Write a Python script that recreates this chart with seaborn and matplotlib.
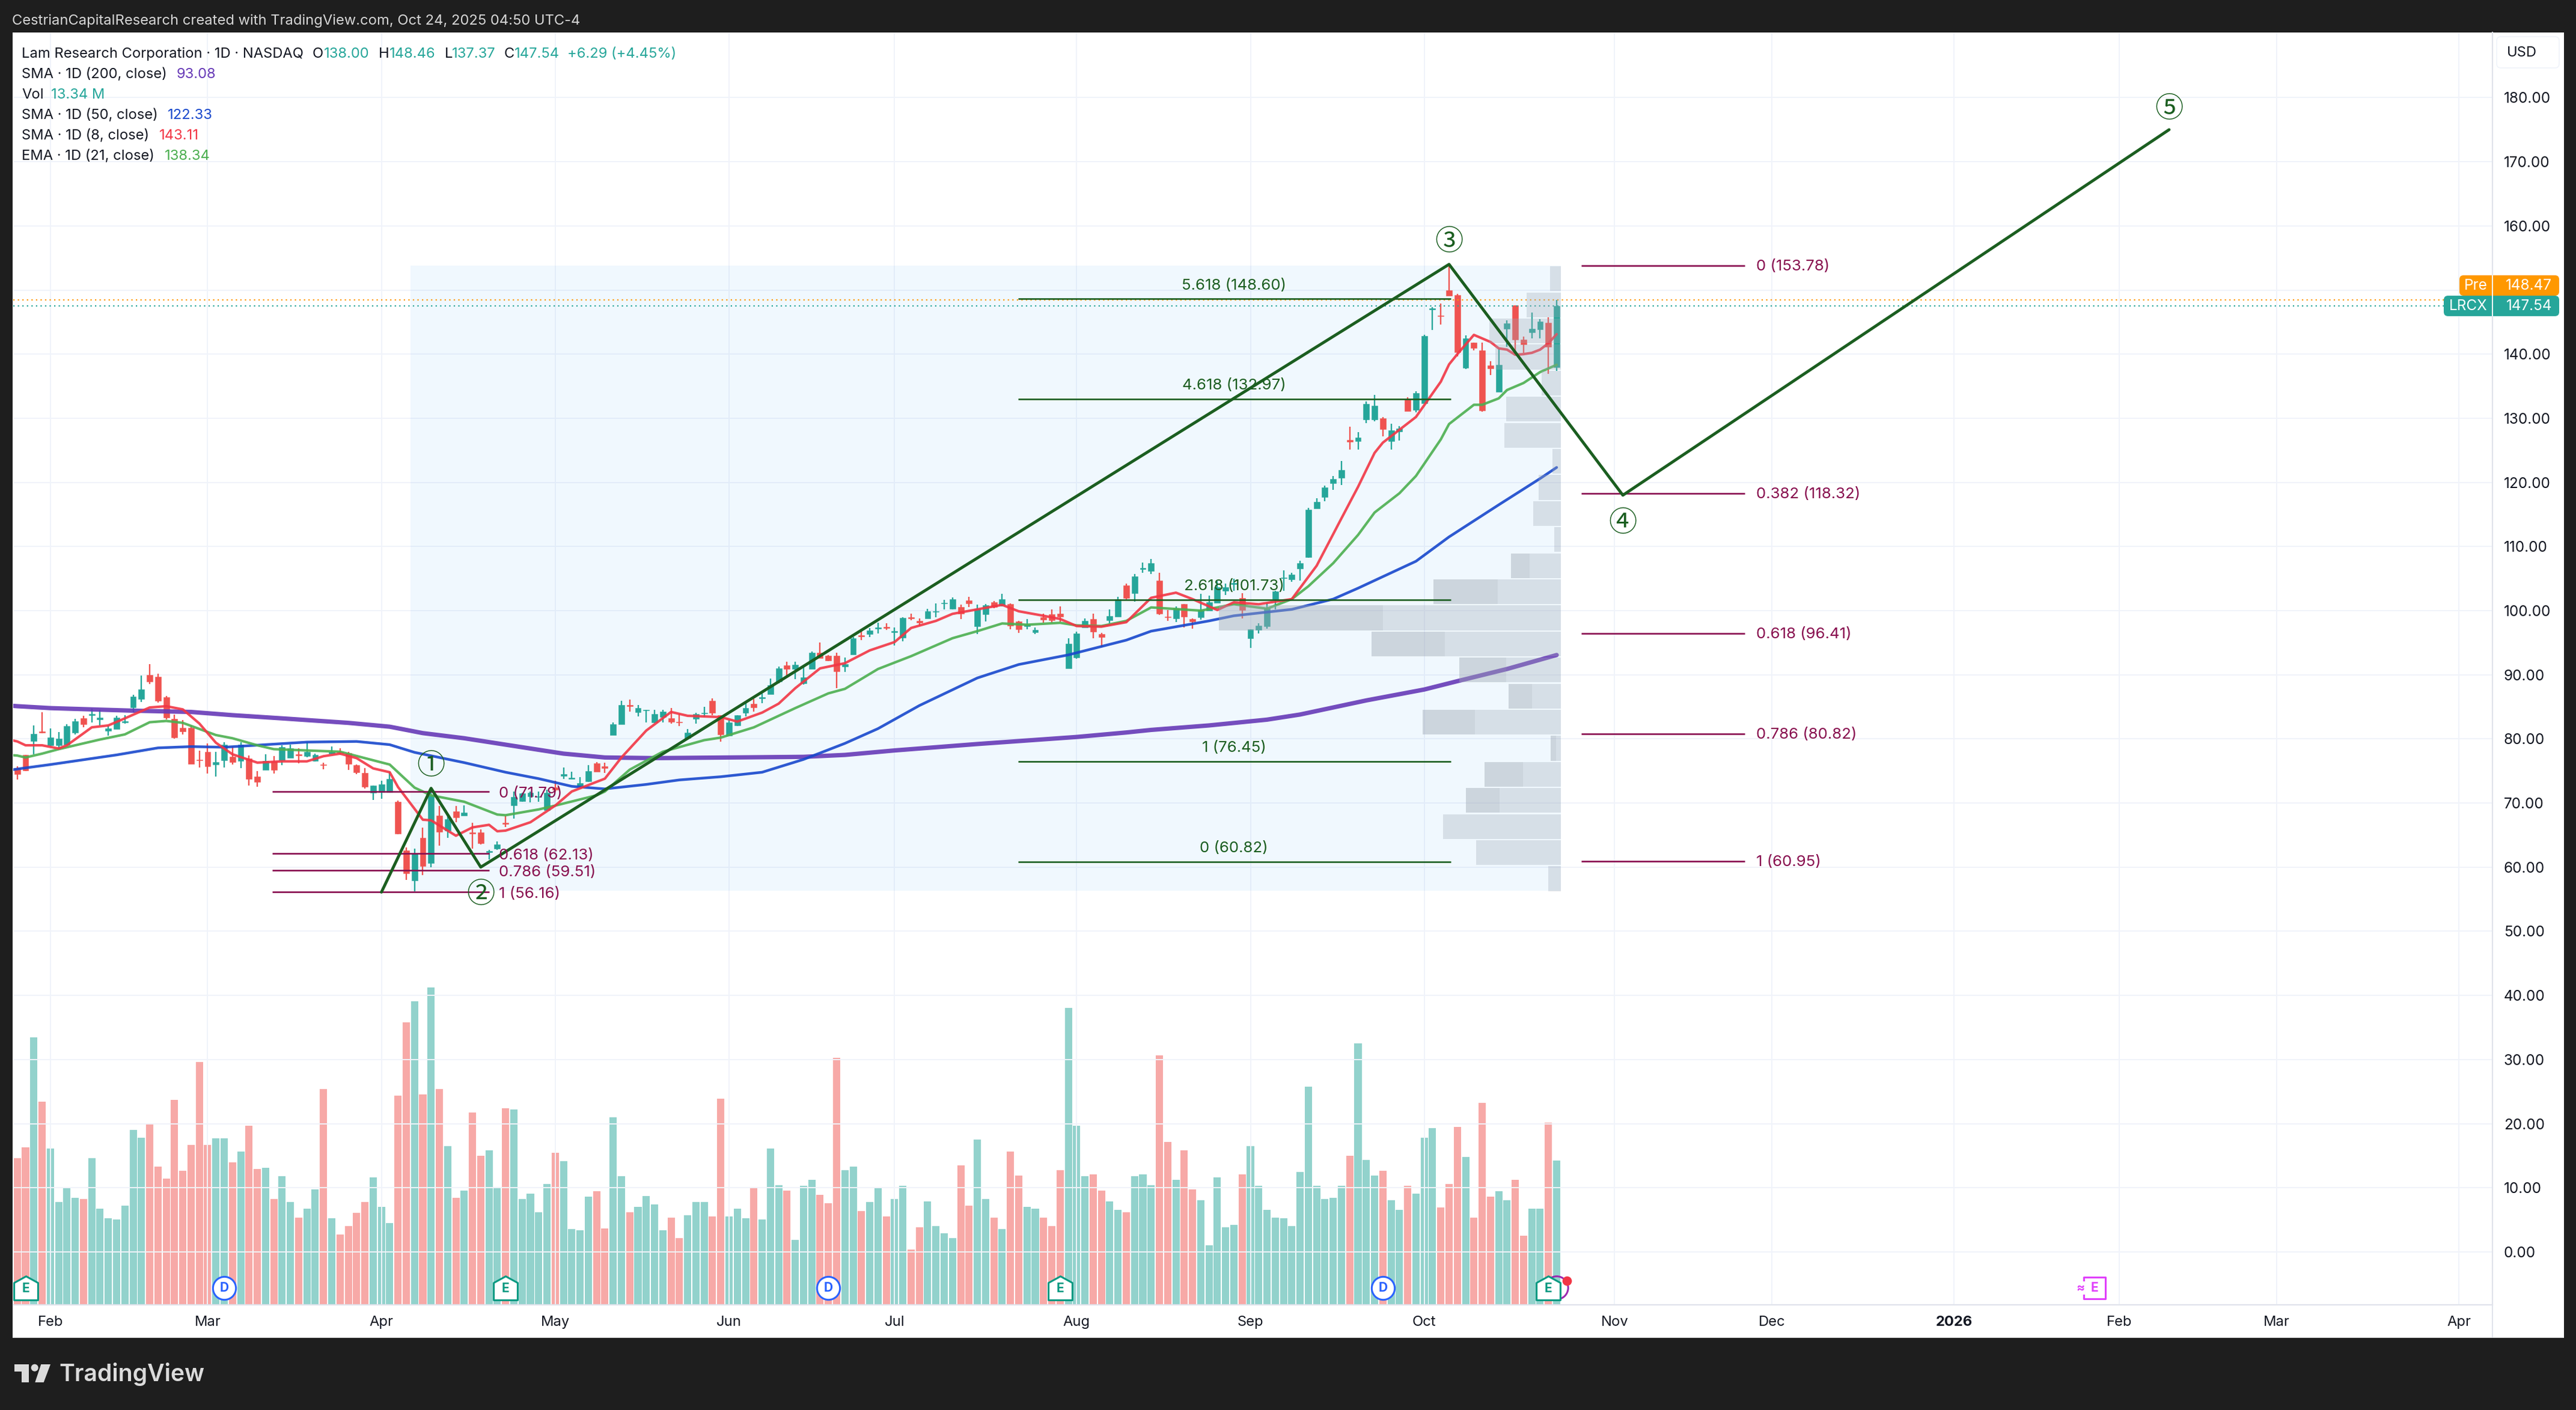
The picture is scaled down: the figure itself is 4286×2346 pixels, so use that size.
import numpy as np
import pandas as pd
import matplotlib
matplotlib.use("Agg")
import matplotlib.pyplot as plt
import seaborn as sns
from matplotlib.patches import Rectangle, FancyBboxPatch, Polygon, Circle
from matplotlib.path import Path
from matplotlib.transforms import IdentityTransform

W, H = 4286, 2346

# daily candles, LRCX
opens = [75.4,77.5,79.7,81.2,79.0,79.0,79.1,81.0,83.2,83.7,
         83.0,81.3,81.5,82.6,84.9,86.2,90.0,89.7,86.5,83.1,
         81.7,81.7,76.8,78.0,76.0,76.7,77.2,76.6,76.9,74.1,
         75.2,76.5,76.7,77.0,77.6,77.3,76.6,76.0,77.7,78.0,
         77.8,75.9,74.7,71.6,71.7,71.7,70.2,62.6,57.9,64.6,
         60.6,68.0,65.7,68.7,68.0,65.4,65.4,62.3,62.9,66.9,
         69.6,70.3,71.0,70.9,68.9,72.4,74.2,73.8,72.6,73.4,
         76.2,75.7,80.6,82.3,85.3,84.2,84.4,82.6,83.4,83.2,
         82.7,80.1,83.1,84.0,85.9,83.7,80.5,82.1,84.1,85.5,
         86.3,87.0,88.9,91.5,90.9,88.7,90.9,93.4,93.0,93.0,
         91.3,93.2,96.2,96.3,97.2,97.5,96.6,95.8,99.0,98.4,
         98.8,99.8,101.1,100.3,100.6,101.6,97.6,99.4,101.3,100.8,
         101.0,98.3,97.6,96.6,99.0,99.4,99.5,91.0,92.7,97.4,
         98.7,96.3,98.5,99.1,103.9,102.7,106.5,106.2,104.7,99.1,
         98.8,101.0,98.7,99.0,100.0,101.2,103.1,104.1,102.0,95.7,
         97.0,97.6,101.8,105.1,104.9,106.6,108.3,115.9,117.7,119.9,
         120.7,126.6,126.4,129.8,129.8,130.0,126.4,127.9,133.0,131.3,
         132.3,147.0,146.0,150.0,149.2,137.9,141.8,140.6,138.2,134.1,
         144.0,147.6,142.3,143.4,143.9,144.9,138.0]
highs = [75.7,77.5,82.1,84.2,81.6,81.1,82.3,83.1,83.6,84.7,
         84.5,82.1,83.6,83.7,86.9,89.9,91.7,90.2,86.7,83.8,
         82.9,82.1,78.2,79.3,78.0,79.5,78.8,79.5,77.4,75.0,
         77.6,77.3,79.0,79.1,78.5,79.5,77.7,76.3,78.8,78.5,
         78.0,76.0,75.4,72.7,73.5,74.9,70.4,63.1,62.9,66.2,
         71.8,69.5,68.0,69.5,69.6,66.9,65.9,62.7,64.0,68.0,
         71.8,71.6,71.8,71.8,72.1,73.5,75.5,74.9,74.0,75.9,
         76.4,76.3,82.6,85.9,86.1,85.3,84.5,84.5,84.5,84.8,
         83.9,81.5,84.1,85.0,86.3,83.7,82.9,83.7,85.9,86.2,
         87.1,89.4,91.3,92.0,92.0,91.3,93.6,95.0,93.1,93.4,
         92.7,95.9,97.1,97.3,98.1,98.0,97.4,99.0,99.5,98.8,
         100.3,101.1,101.7,102.1,100.9,102.2,100.9,101.0,101.5,102.6,
         101.1,98.4,98.7,97.4,99.5,100.2,100.7,95.7,96.7,98.8,
         99.5,96.5,100.2,102.2,104.2,105.7,107.5,108.1,105.9,100.1,
         100.7,101.0,98.8,102.6,102.3,104.6,104.2,105.0,102.7,97.1,
         98.0,101.2,103.1,106.3,105.9,107.8,116.0,117.5,119.5,121.0,
         123.3,128.7,127.8,132.6,133.6,130.2,129.1,128.8,133.3,134.2,
         143.0,147.3,147.9,153.8,149.4,142.9,141.8,141.8,138.9,140.9,
         145.3,147.6,142.7,146.5,145.5,145.7,148.46]
lows = [73.7,75.0,77.6,80.9,78.8,78.4,79.0,80.7,81.8,82.6,
        82.1,80.5,81.5,82.4,84.1,85.8,88.6,85.7,83.0,80.0,
        80.7,76.1,75.5,74.6,74.1,75.5,76.0,75.4,72.7,72.5,
        75.2,74.6,75.9,77.0,76.2,77.1,76.5,75.3,77.6,77.5,
        75.2,74.5,72.3,70.5,70.7,71.6,65.1,58.0,56.2,58.8,
        60.0,63.4,64.6,67.0,68.0,62.9,63.5,61.2,62.7,66.3,
        67.6,70.2,70.1,70.2,68.9,71.8,73.8,73.8,72.4,73.3,
        74.9,74.7,80.6,82.3,84.3,83.5,82.6,82.5,82.6,82.4,
        82.0,79.9,82.4,83.4,83.7,79.6,80.5,82.0,83.5,84.3,
        85.6,87.0,88.7,89.8,89.3,88.5,90.9,92.6,92.1,87.9,
        90.4,93.2,95.4,95.9,96.4,97.0,94.6,95.2,98.5,97.7,
        98.8,99.0,100.2,100.2,98.7,100.6,96.3,98.3,100.4,100.7,
        97.1,96.5,97.1,96.3,98.1,98.1,98.2,91.0,92.5,97.4,
        95.7,94.3,98.0,99.1,101.8,101.4,105.9,105.7,99.3,98.4,
        98.2,97.4,97.2,98.6,100.0,101.2,102.4,103.1,98.8,94.2,
        96.4,97.2,100.2,103.1,104.5,104.7,108.2,115.9,117.1,118.8,
        119.6,125.1,125.1,129.2,129.5,127.2,125.1,126.5,131.1,130.9,
        132.3,143.8,144.6,149.1,139.6,137.7,140.6,131.0,136.7,134.1,
        141.1,140.5,140.2,142.5,142.5,136.9,137.37]
closes = [74.5,75.1,80.8,81.0,80.2,80.0,82.0,82.8,82.3,83.9,
          83.3,81.6,83.3,82.8,86.6,87.7,88.9,85.9,83.3,80.2,
          81.2,76.1,76.7,75.7,76.4,79.1,76.4,79.1,73.8,73.3,
          76.6,75.2,78.7,78.5,77.4,78.0,77.5,75.9,78.0,77.8,
          76.1,74.8,72.5,72.7,72.9,73.8,65.2,59.0,62.1,60.2,
          71.2,65.5,67.5,67.8,68.5,65.2,63.7,62.5,63.5,66.7,
          70.9,71.5,71.6,71.0,71.6,72.1,74.5,73.9,73.1,75.0,
          74.9,75.4,82.3,85.3,85.1,84.8,84.5,83.9,84.3,82.7,
          82.6,81.0,83.9,84.1,84.1,80.7,82.6,83.7,84.8,84.9,
          86.5,88.4,91.0,90.9,91.6,89.6,93.4,92.6,92.2,90.5,
          91.7,95.7,96.0,96.9,97.4,97.3,96.8,98.9,98.8,98.1,
          99.9,99.9,101.2,101.8,99.5,101.1,100.3,100.8,100.6,101.8,
          97.7,97.1,97.8,97.0,98.6,98.5,99.1,94.8,96.4,98.4,
          96.7,95.9,99.2,101.8,102.0,105.3,106.7,107.4,99.5,99.0,
          100.4,99.1,98.3,100.1,101.3,103.7,103.7,104.3,100.1,97.1,
          97.7,100.4,103.0,105.2,105.6,107.4,115.7,117.0,119.2,120.5,
          121.9,126.3,127.0,132.2,132.0,128.3,128.1,128.4,131.1,133.9,
          142.8,147.1,145.9,149.1,140.3,142.5,141.0,131.2,137.8,138.3,
          144.8,142.3,141.5,144.0,145.1,141.1,147.54]

# volume in millions and the colour of each volume bar
volumes = [13.6,14.6,24.8,18.8,14.5,9.5,10.8,9.9,9.8,13.6,
           8.9,8.0,7.9,9.2,16.2,15.5,16.8,12.8,11.7,19.0,
           12.4,14.8,22.5,14.8,15.4,15.4,13.2,14.2,16.6,12.6,
           12.7,9.8,11.9,9.5,8.1,8.9,10.7,20.0,8.0,6.5,
           7.3,8.5,9.5,11.8,9.1,7.6,19.4,26.2,28.1,19.5,
           29.4,20.0,14.7,9.9,10.6,17.8,13.8,14.3,10.9,18.2,
           18.1,9.8,10.3,8.6,11.2,14.1,13.3,7.0,6.9,10.0,
           10.5,7.1,17.4,11.9,8.6,9.1,10.1,9.3,6.9,8.1,
           6.2,8.3,9.5,9.5,8.2,19.1,8.2,8.9,8.0,10.9,
           7.9,14.5,11.1,10.6,6.0,11.0,11.6,10.2,9.4,22.9,
           12.5,12.8,8.7,9.5,10.8,8.2,9.8,11.0,5.1,7.2,
           9.6,7.3,6.6,6.2,12.9,9.2,15.3,9.8,8.1,7.0,
           14.2,12.0,9.1,8.9,8.1,7.3,12.5,27.5,16.6,11.9,
           12.1,10.6,9.6,8.8,8.6,11.9,12.1,11.1,23.1,15.1,
           11.6,14.3,10.7,9.7,5.5,11.8,7.2,7.4,12.1,14.7,
           11.0,8.8,8.1,8.0,7.3,12.3,20.2,11.0,9.8,9.9,
           11.0,13.8,24.2,13.4,12.0,12.4,9.7,8.8,11.0,10.3,
           15.5,16.4,9.0,11.2,16.5,13.7,8.1,18.7,10.0,10.5,
           9.7,11.6,6.4,8.9,8.9,16.9,13.34]
vol_side = list("rrgrggggrg" "ggggggrrrr" "rrrrggrgrr" "grggrggrgr" "rrrgggrrgr"
                "grgrgrrggr" "gggggrgggg" "rrggrggggr" "rgggrrgggr" "gggrgggrrr"
                "ggrggrggrr" "ggggrrggrg" "rrggrrrggg" "rrggrgggrr" "grrgggggrg"
                "gggggggggg" "grgggrggrg" "ggrrrgrrrg" "grrggrg")

# moving averages, read at these bar numbers
sma200_x = [-1,0,4,14,21,26,32,40,45,49,54,60,66,71,77,86,95,100,106,116,128,134,137,144,151,155,163,170,174,180,186]
sma200_y = [85.2,85.1,84.8,84.4,84.2,83.7,83.2,82.5,81.9,80.9,80.1,78.9,77.7,77.1,77.0,77.1,77.2,77.5,78.2,79.2,80.3,81.0,81.4,82.1,83.0,83.8,86.0,87.7,89.0,90.9,93.08]
sma50_x = [-1,0,4,12,17,21,25,30,35,41,45,48,54,59,63,67,71,76,80,85,90,95,100,104,109,116,121,127,134,137,144,147,154,159,162,169,173,179,184,186]
sma50_y = [75.1,75.3,76.0,77.5,78.6,78.8,78.7,79.1,79.5,79.6,79.1,77.9,76.3,74.8,73.8,72.6,72.2,72.9,73.6,74.1,74.8,76.8,79.3,81.6,85.2,89.5,91.6,93.1,95.4,96.8,98.4,99.2,100.2,101.8,103.5,107.7,111.5,116.5,120.6,122.33]
sma8_x = [-1,0,1,3,5,6,9,11,13,16,18,20,22,24,26,29,32,35,37,39,41,43,45,46,49,50,53,55,57,58,59,62,65,67,71,73,76,79,81,85,87,90,92,94,97,100,103,106,108,111,113,116,119,121,124,126,128,131,134,137,140,142,145,147,150,154,157,160,162,164,165,168,169,172,173,174,176,178,179,180,181,182,183,184,185,186]
sma8_y = [79.9,79.6,79.0,79.0,78.5,79.0,81.8,82.1,83.2,84.9,85.1,84.6,82.4,79.4,77.6,76.3,76.5,76.5,77.3,77.7,77.0,75.4,74.8,72.5,67.4,67.3,64.9,66.2,66.6,65.6,65.7,67.0,69.6,71.8,73.8,77.1,81.3,84.2,83.6,83.4,82.7,84.1,85.5,87.9,91.0,91.8,93.8,95.1,97.3,98.4,99.5,100.2,100.9,99.9,99.2,98.7,97.6,97.5,98.2,102.0,102.8,101.8,100.1,101.3,101.0,101.8,107.0,114.4,119.3,124.6,126.2,129.2,130.2,135.7,138.4,140.0,143.0,141.9,140.9,140.7,139.9,140.0,140.2,140.7,141.7,143.11]
ema21_x = [-1,0,1,3,5,10,13,16,18,20,24,26,29,31,35,39,42,45,48,50,54,58,59,63,65,70,71,74,78,83,85,89,94,98,100,104,108,113,116,119,122,126,128,131,134,137,143,147,151,154,156,159,162,164,167,169,172,173,176,177,179,180,182,184,186]
ema21_y = [77.5,77.4,77.1,77.7,78.4,79.9,80.7,82.6,82.8,82.5,80.6,80.1,79.0,78.4,78.2,78.0,77.0,76.0,72.4,71.2,70.2,68.2,68.1,69.0,69.6,71.2,71.8,75.2,78.0,79.8,80.2,81.8,84.8,87.1,87.8,90.9,92.9,95.7,96.8,98.0,97.8,98.1,97.7,97.6,98.4,100.5,100.0,101.0,100.3,101.8,103.8,107.4,111.8,115.3,118.3,121.0,126.7,129.1,132.1,132.1,133.1,134.4,135.5,137.2,138.34]

# elliott wave count
wave_x = [44,50,56,173,194,260]
wave_y = [56.1,72.3,60.0,154.0,118.0,175.0]
wave_labels = ["①","②","③","④","⑤"]
wave_label_x = [50,56,173,194,260]
wave_label_y = [75.75,55.65,157.45,113.65,178.15]

# fib levels
green_levels = [148.60,132.97,101.73,76.45,60.82]
green_names = ["5.618","4.618","2.618","1","0"]
crimson_levels = [71.79,62.13,59.51,56.16]
crimson_names = ["0","0.618","0.786","1"]
big_levels = [153.78,118.32,96.41,80.82,60.95]
big_names = ["0","0.382","0.618","0.786","1"]

# visible range volume, row lengths in bar widths, top row first
profile_total = [1.3,4.15,8.6,7.9,2.3,6.6,6.8,1.0,2.7,3.3,0.8,6.0,15.4,41.3,22.9,12.3,6.3,16.7,1.2,9.2,11.5,14.2,10.2,1.5]
profile_down = [0,0,0,0,0,0,0,0,0,0,0,2.2,7.8,19.8,8.9,5.7,2.8,6.3,0.6,4.6,4.1,0,0,0]

month_pos = [4,23,44,65,86,106,128,149,170,193,212,234,254,273,295]
month_names = ["Feb","Mar","Apr","May","Jun","Jul","Aug","Sep","Oct","Nov","Dec","2026","Feb","Mar","Apr"]
price_ticks = list(range(0,190,10))

earn_pos = [1,59,126,185]
div_pos = [25,98,165]
future_earn_pos = [251]

TEAL = "#26A69A"
RED = "#EF5350"
DGREEN = "#1B5E20"
CRIMSON = "#880E4F"
GRID = "#F0F3FA"
INK = "#131722"
FS = 8.55
FIB_FS = 9.3

sns.set_theme(style="white")
plt.rcParams["font.family"] = ["Inter", "DejaVu Sans"]
plt.rcParams["axes.unicode_minus"] = False

fig = plt.figure(figsize=(W/200, H/200), dpi=200, facecolor="#1E1E1E")
px = IdentityTransform()


def box(x0, y0, x1, y1, color, **kw):
    fig.add_artist(Rectangle((x0, H-y1), x1-x0, y1-y0, facecolor=color, edgecolor="none", transform=px, **kw))


def rbox(x0, y0, x1, y1, color, edge="none"):
    fig.add_artist(FancyBboxPatch((x0, H-y1), x1-x0, y1-y0, boxstyle="round,pad=0,rounding_size=7",
                                  facecolor=color, edgecolor=edge, lw=0.6, transform=px, zorder=5))


def label(x, y, s, color=INK, size=FS, ha="left", zorder=7, **kw):
    return fig.text(x/W, 1-(y+2)/H, s, color=color, fontsize=size, ha=ha, va="center", zorder=zorder, **kw)


box(21, 54, 4266, 2226, "white", zorder=-1)

ax = fig.add_axes([22/W, 1-2171/H, (4147-22)/W, (2171-54)/H])
ax_vol = ax.twinx()
ax.set_zorder(2)
ax_vol.set_zorder(1)
ax.patch.set_visible(False)
ax_vol.patch.set_visible(False)

# volume bars
vol_df = pd.DataFrame({"bar": np.arange(len(volumes)), "volume": volumes, "side": vol_side})
sns.barplot(data=vol_df, x="bar", y="volume", hue="side", palette={"g": "#92D2CC", "r": "#F7A9A7"},
            dodge=False, native_scale=True, width=0.875, saturation=1, errorbar=None, legend=False,
            linewidth=0, edgecolor="none", ax=ax_vol)
ax_vol.set_ylim(0, 117.9)
ax_vol.yaxis.set_visible(False)
ax_vol.set_xlabel("")
for s in ax_vol.spines.values():
    s.set_visible(False)

# fib box behind the candles
ax.fill_between([47.5, 186.5], 56.3, 153.78, color="#2196F3", alpha=0.068, lw=0, zorder=1)

# candles
bars = np.arange(len(opens))
op, hi, lo, cl = map(np.array, (opens, highs, lows, closes))
cols = np.where(cl >= op, TEAL, RED)
ax.vlines(bars, lo, hi, colors=cols, lw=0.85, zorder=3)
ax.bar(bars, np.abs(cl-op), bottom=np.minimum(op, cl), width=0.72, color=cols, edgecolor=cols, lw=0.2, zorder=3)

# moving averages
for xs, ys, col, lw in [(sma200_x, sma200_y, "#673AB7", 2.6), (sma50_x, sma50_y, "#1848CC", 1.6),
                        (ema21_x, ema21_y, "#4CAF50", 1.5), (sma8_x, sma8_y, "#F23645", 1.5)]:
    sns.lineplot(x=xs, y=ys, color=col, lw=lw, estimator=None, sort=False, ax=ax, zorder=3.5, alpha=0.9)

# last price lines
ax.axhline(148.47, color="#FF9800", lw=0.8, ls=(0, (1, 2.4)), zorder=4)
ax.axhline(147.54, color=TEAL, lw=0.8, ls=(0, (1, 2.4)), zorder=4)

# volume profile
row_h = (153.78-56.16)/24
for i, (tot, down) in enumerate(zip(profile_total, profile_down)):
    yc = 153.78-(i+0.5)*row_h
    ax.barh(yc, tot, left=186.5-tot, height=row_h*0.95, color="#9FA8B5", alpha=0.31, lw=0, zorder=4.2)
    if down:
        ax.barh(yc, down, left=186.5-tot, height=row_h*0.95, color="#9FA8B5", alpha=0.18, lw=0, zorder=4.2)

# fib retracements
for lev, name in zip(green_levels, green_names):
    ax.hlines(lev, 120.9, 173.2, color=DGREEN, lw=0.95, zorder=5)
    ax.text(147, lev+2.1, f"{name} ({lev:.2f})", color=DGREEN, fontsize=FIB_FS, ha="center", va="center", zorder=6)
for lev, name in zip(crimson_levels, crimson_names):
    ax.hlines(lev, 30.8, 57, color=CRIMSON, lw=0.95, zorder=5)
    ax.text(58.2, lev-0.35, f"{name} ({lev:.2f})", color=CRIMSON, fontsize=FIB_FS, ha="left", va="center", zorder=6)
for lev, name in zip(big_levels, big_names):
    ax.hlines(lev, 189, 208.7, color=CRIMSON, lw=0.95, zorder=5)
    ax.text(210.1, lev-0.15, f"{name} ({lev:.2f})", color=CRIMSON, fontsize=FIB_FS, ha="left", va="center", zorder=6)

# wave count
sns.lineplot(x=wave_x, y=wave_y, color=DGREEN, lw=1.75, estimator=None, sort=False, ax=ax, zorder=5)
for x, y, s in zip(wave_label_x, wave_label_y, wave_labels):
    ax.text(x, y, s, color=DGREEN, fontsize=17, ha="center", va="center", zorder=6,
            family=["Noto Sans CJK JP", "DejaVu Sans"])

# earnings and dividend markers
house = Path([(-1, -1), (1, -1), (1, 0.45), (0, 1), (-1, 0.45), (-1, -1)], closed=True)
mark_y = -5.6
ax.scatter([186], [mark_y], s=190, facecolor="none", edgecolor="#9C27B0", lw=1.1, zorder=6, clip_on=False)
ax.scatter([187.2], [-4.5], s=32, color="#F23645", lw=0, zorder=8, clip_on=False)
ax.scatter(earn_pos, [mark_y]*len(earn_pos), marker=house, s=205, facecolor="white", edgecolor="#089981", lw=1.1, zorder=7, clip_on=False)
ax.scatter(div_pos, [mark_y]*len(div_pos), marker="o", s=190, facecolor="white", edgecolor="#2962FF", lw=1.1, zorder=7, clip_on=False)
ax.scatter(future_earn_pos, [mark_y]*len(future_earn_pos), marker="s", s=170, facecolor="white", edgecolor="#E040FB", lw=1.1, zorder=7, clip_on=False)
for x in earn_pos:
    ax.text(x, mark_y-0.1, "E", color="#089981", fontsize=7.5, fontweight="bold", ha="center", va="center", zorder=8)
for x in div_pos:
    ax.text(x, mark_y, "D", color="#2962FF", fontsize=7.5, fontweight="bold", ha="center", va="center", zorder=8)
for x in future_earn_pos:
    ax.text(x, mark_y, "E", color="#E040FB", fontsize=7.5, fontweight="bold", ha="center", va="center", zorder=8)
    ax.text(x-1.75, mark_y, "≈", color="#E040FB", fontsize=7.5, fontweight="bold", ha="center", va="center", zorder=8,
            bbox=dict(facecolor="white", edgecolor="none", pad=0.3))

# axes
ax.set_xlim(-0.49, 299.07)
ax.set_ylim(-8.25, 190.16)
ax.set_xticks(month_pos)
ax.set_xticklabels(month_names)
ax.get_xticklabels()[month_names.index("2026")].set_fontweight("bold")
ax.yaxis.tick_right()
ax.set_yticks(price_ticks)
ax.set_yticklabels(["" if t == 150 else f"{t:.2f}" for t in price_ticks])
ax.tick_params(axis="x", length=0, pad=6.4, labelsize=FS, labelcolor=INK)
ax.tick_params(axis="y", length=0, pad=6.8, labelsize=8.75, labelcolor=INK)
ax.grid(True, color=GRID, lw=0.7)
ax.set_axisbelow(True)
ax.set_xlabel("")
ax.set_ylabel("")
for name, s in ax.spines.items():
    s.set_visible(name in ("right", "bottom"))
    s.set_color("#E0E3EB")
    s.set_linewidth(0.8)
box(4146, 2171, 4148, 2226, "#E0E3EB", zorder=4)

# header line and legend
label(20, 33, "CestrianCapitalResearch created with TradingView.com, Oct 24, 2025 04:50 UTC-4", color="#D6D6D6")
label(36, 88, "Lam Research Corporation · 1D · NASDAQ")
for x, s, c in [(520, "O", INK), (539, "138.00", TEAL), (630, "H", INK), (648, "148.46", TEAL), (740, "L", INK),
                (752, "137.37", TEAL), (839, "C", INK), (856, "147.54", TEAL), (944, "+6.29 (+4.45%)", TEAL)]:
    label(x, 88, s, color=c)
for y, name, xv, val, c in [(122, "SMA · 1D (200, close)", 294, "93.08", "#673AB7"),
                            (156, "Vol", 85, "13.34 M", TEAL),
                            (190, "SMA · 1D (50, close)", 279, "122.33", "#1848CC"),
                            (224, "SMA · 1D (8, close)", 265, "143.11", "#F23645"),
                            (258, "EMA · 1D (21, close)", 274, "138.34", "#4CAF50")]:
    label(36, y, name)
    label(xv, y, val, color=c)

# price scale badges
rbox(4154, 61, 4258, 113, "white", edge="#F0F3FA")
label(4196, 86, "USD", ha="center")
rbox(4092, 458, 4258, 492, "#FF9800")
rbox(4066, 492, 4258, 526, TEAL)
box(4146, 458, 4148, 526, "#F5F5F5", zorder=6)
label(4119, 474, "Pre", color="white", ha="center", size=8.75)
label(4246, 474, "148.47", color="white", ha="right", size=8.75)
label(4107, 507, "LRCX", color="white", ha="center", size=8.75)
label(4246, 507, "147.54", color="white", ha="right", size=8.75)

# footer logo
LOGO = "#DBDBDB"
fig.add_artist(Polygon([(24, H-2270), (48, H-2270), (48, H-2300), (36, H-2300), (36, H-2282), (24, H-2282)],
                       facecolor=LOGO, edgecolor="none", transform=px))
fig.add_artist(Circle((57.7, H-2275.7), 6, facecolor=LOGO, edgecolor="none", transform=px))
fig.add_artist(Polygon([(68.3, H-2270), (84, H-2270), (72.7, H-2300), (58.3, H-2300)],
                       facecolor=LOGO, edgecolor="none", transform=px))
label(98, 2284, "TradingView", color=LOGO, size=14.1, fontweight="semibold")

fig.savefig("out.png", dpi=200, facecolor=fig.get_facecolor())
plt.close(fig)
